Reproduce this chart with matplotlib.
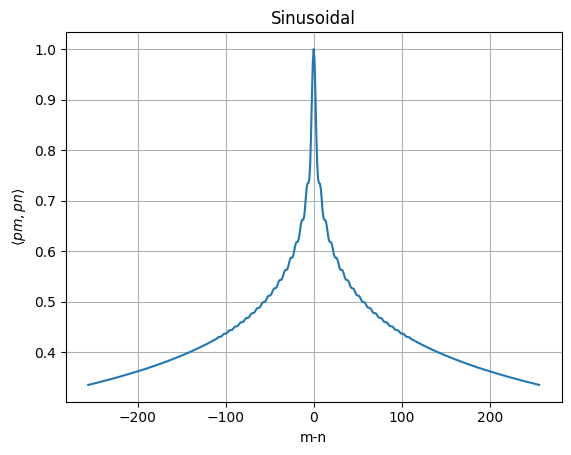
import matplotlib
matplotlib.use("Agg")
import matplotlib.pyplot as plt
import numpy as np

offsets = list(range(0, 111)) + [120, 130, 140, 150, 160, 170, 180, 190,
                                 200, 210, 220, 230, 240, 250, 256]
similarity = [
    1.000, 0.974, 0.908, 0.831, 0.772, 0.742, 0.735, 0.734, 0.725, 0.705,  # 0-9
    0.682, 0.667, 0.662, 0.662, 0.658, 0.648, 0.635, 0.624, 0.619, 0.618,  # 10-19
    0.617, 0.611, 0.602, 0.593, 0.588, 0.587, 0.587, 0.583, 0.577, 0.569,  # 20-29
    0.564, 0.563, 0.563, 0.561, 0.556, 0.550, 0.545, 0.543, 0.543, 0.542,  # 30-39
    0.539, 0.5337, 0.5292, 0.5269, 0.5265, 0.5261, 0.5238, 0.5196, 0.5153, 0.5127,  # 40-49
    0.5120, 0.5119, 0.5104, 0.5071, 0.5031, 0.5003, 0.4993, 0.4992, 0.4983, 0.4958,  # 50-59
    0.4922, 0.4893, 0.4879, 0.4878, 0.4873, 0.4855, 0.4824, 0.4794, 0.4778, 0.4774,  # 60-69
    0.4773, 0.4760, 0.4734, 0.4705, 0.4686, 0.4680, 0.4679, 0.4671, 0.4650, 0.4623,  # 70-79
    0.4602, 0.4594, 0.4593, 0.4588, 0.4572, 0.4548, 0.4525, 0.4514, 0.4513, 0.4510,  # 80-89
    0.4499, 0.4477, 0.4455, 0.4441, 0.4438, 0.4437, 0.4429, 0.4411, 0.4389, 0.4373,  # 90-99
    0.4368, 0.4367, 0.4362, 0.4348, 0.4327, 0.4310, 0.4303, 0.4302, 0.4299, 0.4288,  # 100-109
    0.4269,                                                                          # 110
    0.4175, 0.4088, 0.4008, 0.3933, 0.3863, 0.3797, 0.3735, 0.3676,                  # 120-190
    0.3621, 0.3568, 0.3517, 0.3469, 0.3423, 0.3378, 0.3353,                          # 200-256
]

off = np.array(offsets)
sim = np.array(similarity)
x = np.concatenate([-off[:0:-1], off])
y = np.concatenate([sim[:0:-1], sim])

fig = plt.figure(figsize=(5.71, 4.55), dpi=100)
ax = fig.add_axes([65.7 / 571, (455 - 401.7) / 455, 496 / 571, 369.4 / 455])
ax.plot(x, y)
ax.set_title("Sinusoidal")
ax.set_xlabel("m-n")
ax.set_ylabel(r"$\langle pm, pn \rangle$")
ax.grid(True)

fig.savefig("out.png", dpi=100)
plt.close(fig)
